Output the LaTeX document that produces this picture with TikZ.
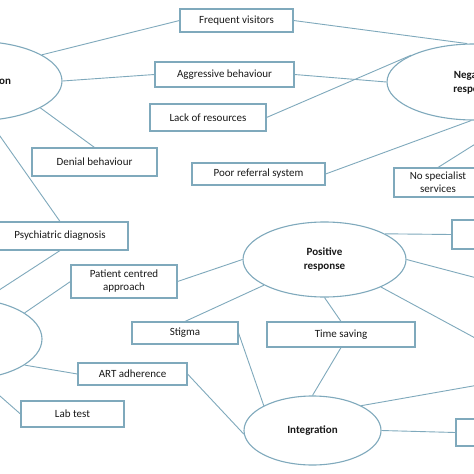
\documentclass[tikz,border=0pt]{standalone}
\usepackage{fontspec}
\setmainfont{Carlito}
\usetikzlibrary{shapes.geometric}
\definecolor{ln}{RGB}{127,169,188}
\definecolor{tx}{RGB}{25,25,25}
\begin{document}
\begin{tikzpicture}[x=1pt,y=-1pt,
  box/.style={draw=ln,line width=1.1pt,rectangle,inner sep=0pt,text=tx,
    font=\fontsize{11}{13}\selectfont,align=center},
  ell/.style={draw=ln,line width=1.1pt,ellipse,inner sep=0pt,text=tx,
    font=\bfseries\fontsize{11}{14}\selectfont,align=center},
  lbl/.style={inner sep=0pt,text=tx,font=\bfseries\fontsize{11}{14}\selectfont,align=center},
  conn/.style={draw=ln,line width=0.9pt}]
\useasboundingbox (0,0) rectangle (474,474);
\fill[white] (0,0) rectangle (474,474);
\clip (0,0) rectangle (474,474);

% ellipses
\node[ell,minimum width=170pt,minimum height=79pt] (E1) at (-23,81) {};
\node[lbl] (E1t) at (5,82) {on};
\node[ell,minimum width=174pt,minimum height=76pt] (E2) at (474,82) {Negative\\response};
\node[ell,minimum width=163pt,minimum height=75pt] (E3) at (324.5,259.5) {Positive\\response};
\node[ell,minimum width=152pt,minimum height=80pt] (E4) at (-34,339) {};
\node[ell,minimum width=137pt,minimum height=69pt] (E5) at (312.5,430.5) {Integration};

% boxes
\node[box,minimum width=113pt,minimum height=23pt] (fv) at (236.5,20.5) {Frequent visitors};
\node[box,minimum width=139pt,minimum height=25pt] (ag) at (224.5,74.5) {Aggressive behaviour};
\node[box,minimum width=116pt,minimum height=27pt] (lr) at (208,117.5) {Lack of resources};
\node[box,minimum width=125pt,minimum height=28pt] (db) at (94.5,162) {Denial behaviour};
\node[box,minimum width=133pt,minimum height=22pt] (pr) at (258.5,174) {Poor referral system};
\node[box,minimum width=88pt,minimum height=29pt] (ns) at (438,182.5) {No specialist\\services};
\node[box,minimum width=68pt,minimum height=29pt] (rb1) at (486,234.5) {};
\node[box,minimum width=136pt,minimum height=28pt] (pd) at (60,236) {Psychiatric diagnosis};
\node[box,minimum width=106pt,minimum height=33pt] (pc) at (124,281.5) {Patient centred\\approach};
\node[box,minimum width=106pt,minimum height=22pt] (st) at (185,333) {Stigma};
\node[box,minimum width=109pt,minimum height=22pt] (ar) at (132.5,374) {ART adherence};
\node[box,minimum width=103pt,minimum height=26pt] (lt) at (72.5,414) {Lab test};
\node[box,minimum width=148pt,minimum height=25pt] (ts) at (341,334.5) {Time saving};
\node[box,minimum width=64pt,minimum height=27pt] (rb2) at (488,432.5) {};

% free ends leaving the picture
\coordinate (r1) at (520,289.4);
\coordinate (r2) at (520,362.3);
\coordinate (r3) at (520,377.7);

% connectors of the top-left ellipse
\draw[conn] (E1.22.4) -- (fv.west);
\draw[conn] (E1.east) -- (ag.west);
\draw[conn] (E1.-23.2) -- (db.north);
\draw[conn] (E1.-73.4) -- (pd.north);

% connectors of the negative response ellipse
\draw[conn] (fv.east) -- (E2.100.7);
\draw[conn] (ag.east) -- (E2.west);
\draw[conn] (lr.east) -- (E2.157.6);
\draw[conn] (pr.east) -- (E2.-94.5);
\draw[conn] (ns.north) -- (E2.-33.7);

% connectors of the bottom-left ellipse
\draw[conn] (pd.south) -- (E4.65.2);
\draw[conn] (pc.west) -- (E4.24.1);
\draw[conn] (ar.west) -- (E4.-24.6);
\draw[conn] (lt.west) -- (E4.-70.6);

% connectors of the positive response ellipse
\draw[conn] (pc.east) -- (E3.west);
\draw[conn] (st.north) -- (E3.203.5);
\draw[conn] (E3.south) -- (ts.north);
\draw[conn] (E3.23.1) -- (rb1.west);
\draw[conn] (E3.east) -- (r1);
\draw[conn] (E3.-26.4) -- (r2);

% connectors of the integration ellipse
\draw[conn] (ts.south) -- (E5.north);
\draw[conn] (st.east) -- (E5.153);
\draw[conn] (ar.east) -- (E5.-177);
\draw[conn] (E5.27) -- (r3);
\draw[conn] (E5.east) -- (rb2.west);
\end{tikzpicture}
\end{document}
